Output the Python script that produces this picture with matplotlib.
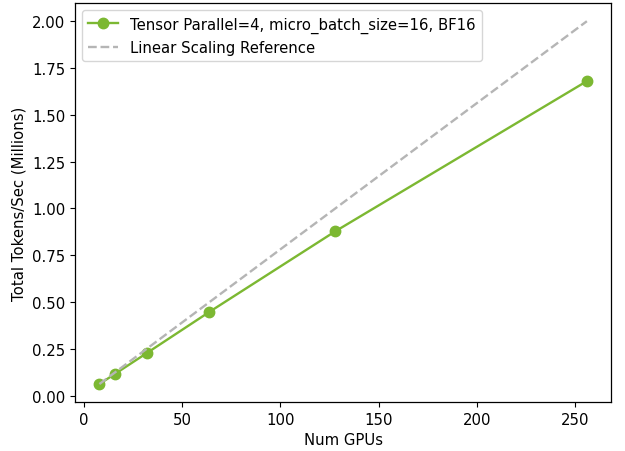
import matplotlib
matplotlib.use("Agg")
import matplotlib.pyplot as plt
import numpy as np

num_gpus = [8, 16, 32, 64, 128, 256]
tokens_per_sec_m = [0.0625, 0.117, 0.227, 0.448, 0.878, 1.68]
series_label = "Tensor Parallel=4, micro_batch_size=16, BF16"
ref_label = "Linear Scaling Reference"

x = np.array(num_gpus)
ref = tokens_per_sec_m[0] * x / num_gpus[0]

plt.rcParams["font.size"] = 10.7
fig, ax = plt.subplots(figsize=(6.25, 4.52), dpi=100)
ax.plot(num_gpus, tokens_per_sec_m, marker="o", color="#7cb832", lw=1.7, ms=7.5, label=series_label)
ax.plot(num_gpus, ref, ls="--", color="#b5b5b5", lw=1.7, label=ref_label)
ax.set_xlabel("Num GPUs")
ax.set_ylabel("Total Tokens/Sec (Millions)")
ax.set_yticks(np.arange(0, 2.01, 0.25))
for s in ax.spines.values():
    s.set_linewidth(0.9)
ax.legend(loc="upper left")
fig.subplots_adjust(left=0.12, right=0.978, bottom=0.108, top=0.991)
fig.savefig("out.png", dpi=100)
